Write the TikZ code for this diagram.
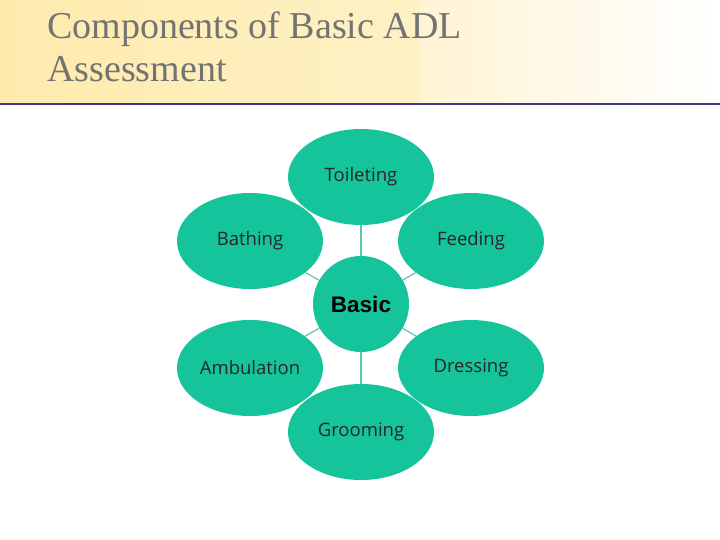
\documentclass[tikz,border=0pt]{standalone}
\usepackage{fontspec}
\setmainfont{Liberation Serif}
\newfontfamily\osans{Open Sans}
\newfontfamily\lsans{Liberation Sans}
\definecolor{teal1}{RGB}{22,196,155}
\definecolor{tline}{RGB}{90,200,170}
\definecolor{navy}{RGB}{60,60,130}
\begin{document}
\begin{tikzpicture}[x=1pt,y=-1pt,
  petal/.style={ellipse,fill=teal1,minimum width=146pt,minimum height=96pt,inner sep=0pt,font=\osans\fontsize{18.5}{20}\selectfont,text=black!85},
  hub/.style={circle,fill=teal1,minimum size=96pt,inner sep=0pt,font=\lsans\bfseries\fontsize{22.5}{24}\selectfont},
  spoke/.style={draw=tline,line width=1.2pt}]
\usetikzlibrary{shapes.geometric}
\useasboundingbox (0,0) rectangle (720,540);
\fill[white] (0,0) rectangle (720,540);
\shade[left color=yellow!45!orange!40, right color=white] (0,0) rectangle (720,104);
\fill[yellow!60!orange!25,opacity=0.6] (0,0) rectangle (420,104);
\draw[navy,line width=1.5pt] (0,104) -- (720,104);
\node[anchor=north west,text=black!55,font=\fontsize{38}{43}\selectfont,align=left,inner sep=0pt] (title) at (47,12) {Components of Basic ADL\\Assessment};
\node[hub] (b) at (361,304) {Basic};
\node[petal] (t) at (361,177) {Toileting};
\node[petal] (ba) at (250,241) {Bathing};
\node[petal] (f) at (471,241) {Feeding};
\node[petal] (a) at (250,368) {Ambulation};
\node[petal] (d) at (471,368) {Dressing};
\node[petal] (g) at (361,432) {Grooming};
\foreach \n in {t,ba,f,a,d,g} \draw[spoke] (b) -- (\n);
\end{tikzpicture}
\end{document}
